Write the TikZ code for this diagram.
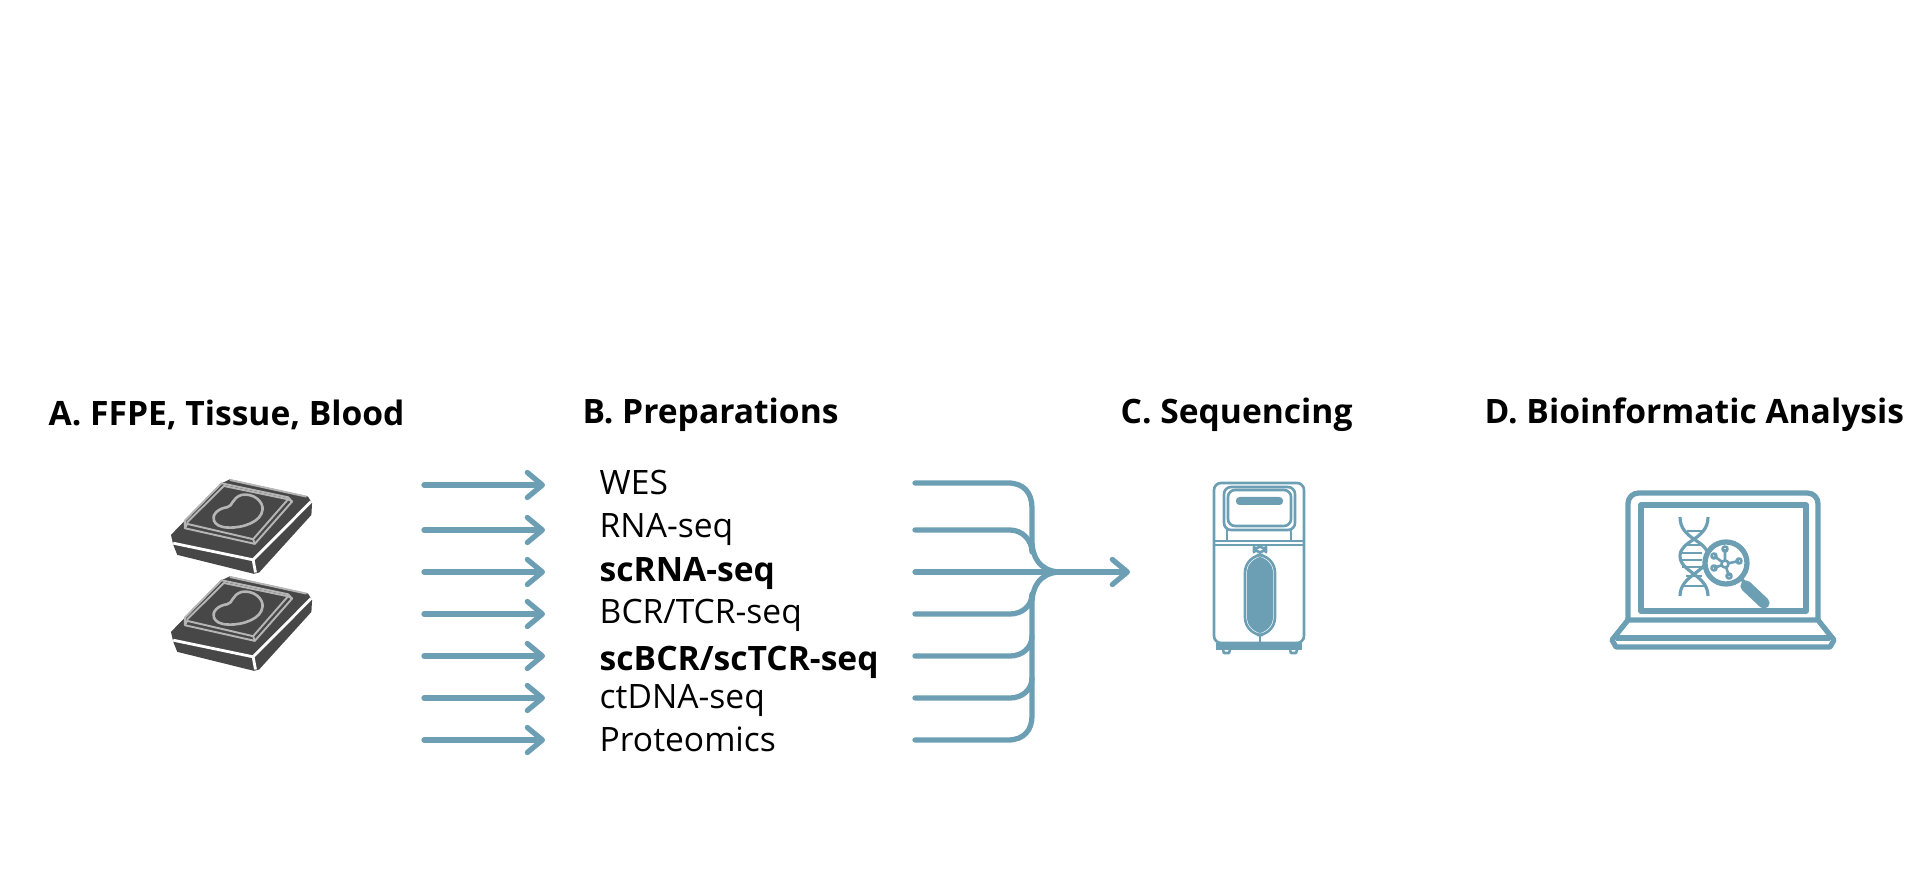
\documentclass[tikz,border=0pt]{standalone}
\usepackage{fontspec}
\setmainfont{Open Sans}
\usetikzlibrary{positioning}
\usetikzlibrary{arrows.meta}
\definecolor{teal1}{HTML}{6C9FB4}
\definecolor{slidedark}{HTML}{474747}
\definecolor{slidegrey}{HTML}{B5B5B5}

\begin{document}
\begin{tikzpicture}[%
    x=0.01cm, y=-0.01cm,
    node distance=0.54cm,
    heading/.style={inner sep=0pt, anchor=west, font=\fontsize{9.55}{11}\selectfont\bfseries},
    prepnode/.style={inner sep=0pt, font=\fontsize{9.55}{11}\selectfont},
    prepbold/.style={prepnode, font=\fontsize{9.55}{11}\selectfont\bfseries},
    flow/.style={draw=teal1, line width=1.5pt, line cap=round},
    flowtip/.style={flow, -{Straight Barb[length=1.5mm, width=2.5mm, round]}},
    device/.style={draw=teal1, line width=0.75pt, line join=round},
    laptop/.style={draw=teal1, line width=1.5pt, line join=round},
    slidetop/.style={draw=slidegrey, line width=0.55pt, line join=round},
    slide/.pic={
        \begin{scope}[x=0.00333cm, y=-0.00333cm]
        \fill[slidedark] (93,225) -- (245,70) -- (270,58) -- (505,110) -- (517,130) -- (515,165) -- (358,338) -- (342,342) -- (112,285) -- (100,255) -- cycle;
        \draw[white, line width=0.8pt] (100,250) -- (340,300) -- (347,338);
        \draw[white, line width=0.8pt] (340,300) -- (514,125);
        \draw[slidetop] (135,182) -- (245,70) -- (445,112) -- (457,125) -- (345,252) -- (135,205) -- cycle;
        \draw[slidetop] (142,187) -- (252,78) -- (445,118) -- (340,238) -- (142,192) -- cycle;
        \draw[slidetop] (135,205) -- (142,192);
        \draw[slidetop] (345,252) -- (340,238) (457,125) -- (445,118);
        \draw[slidetop] (270,60) -- (500,110);
        \draw[slidetop, line width=0.75pt] (222,182) .. controls (215,165) and (235,145) .. (262,142)
            .. controls (280,138) and (275,115) .. (305,105) .. controls (340,98) and (372,125) .. (368,150)
            .. controls (365,185) and (310,205) .. (265,203) .. controls (240,202) and (228,195) .. (222,182) -- cycle;
        \end{scope}
    }
]

% headings
\node[heading] (sample) at (48,415) {A. FFPE, Tissue, Blood};
\node[heading] (prep)   at (582,415) {B. Preparations};
\node[heading] (seq)    at (1120,415) {C. Sequencing};
\node[heading] (bioinf) at (1484,415) {D. Bioinformatic Analysis};

% slides
\pic at (140,460) {slide};
\pic at (140,557) {slide};

% arrow ends
\coordinate (a1) at (424,485);  \coordinate (e1) at (545,485);
\coordinate (a2) at (424,530);  \coordinate (e2) at (545,530);
\coordinate (a3) at (424,572);  \coordinate (e3) at (545,572);
\coordinate (a4) at (424,614);  \coordinate (e4) at (545,614);
\coordinate (a5) at (424,656);  \coordinate (e5) at (545,656);
\coordinate (a6) at (424,698);  \coordinate (e6) at (545,698);
\coordinate (a7) at (424,740);  \coordinate (e7) at (545,740);

% preparations
\node[prepnode] (wes)     [right=of e1, yshift=0.02cm] {WES};
\node[prepnode] (rnaseq)  [right=of e2, yshift=0.01cm] {RNA-seq};
\node[prepbold] (scrna)   [right=of e3, yshift=-0.015cm] {scRNA-seq};
\node[prepnode] (bcrtcr)  [right=of e4, yshift=-0.015cm] {BCR/TCR-seq};
\node[prepbold] (scbcr)   [right=of e5, yshift=-0.06cm] {scBCR/scTCR-seq};
\node[prepnode] (ctdna)   [right=of e6, yshift=-0.025cm] {ctDNA-seq};
\node[prepnode] (proteo)  [right=of e7, yshift=0.01cm] {Proteomics};

% sample arrows
\draw[flowtip] (a1) -- (e1);
\draw[flowtip] (a2) -- (e2);
\draw[flowtip] (a3) -- (e3);
\draw[flowtip] (a4) -- (e4);
\draw[flowtip] (a5) -- (e5);
\draw[flowtip] (a6) -- (e6);
\draw[flowtip] (a7) -- (e7);

% merge lines
\coordinate (m1) at (915,483);
\coordinate (m2) at (915,530);
\coordinate (m3) at (915,572);
\coordinate (m4) at (915,614);
\coordinate (m5) at (915,656);
\coordinate (m6) at (915,698);
\coordinate (m7) at (915,740);
\coordinate (join) at (1058,572);
\coordinate (seqin) at (1130,572);
\draw[flow] (m1) -- (1008,483) .. controls (1024,483) and (1032,493) .. (1032,508) -- (1032,540) .. controls (1032,558) and (1040,570) .. (join);
\draw[flow] (m2) -- (1010,530) .. controls (1022,530) and (1032,540) .. (1032,552);
\draw[flow] (join) .. controls (1040,574) and (1032,586) .. (1032,604) -- (1032,716) .. controls (1032,730) and (1024,740) .. (1008,740) -- (m7);
\draw[flow] (m4) -- (1010,614) .. controls (1022,614) and (1032,606) .. (1032,594);
\draw[flow] (m5) -- (1010,656) .. controls (1022,656) and (1032,648) .. (1032,636);
\draw[flow] (m6) -- (1010,698) .. controls (1022,698) and (1032,690) .. (1032,678);
\draw[flowtip] (m3) -- (seqin);

% sequencer
\draw[device, rounded corners=2pt] (1214,483) rectangle (1304,643);
\draw[device] (1214,541) -- (1304,541) (1214,545) -- (1304,545);
\draw[device, rounded corners=2pt] (1224,487) rectangle (1295,530);
\draw[device, rounded corners=2pt] (1228,490) rectangle (1291,526);
\draw[device] (1227,530) -- (1227,541) (1291,530) -- (1291,541);
\fill[teal1, rounded corners=1pt] (1236,497) rectangle (1283,505);
\fill[teal1] (1216,643) rectangle (1302,650);
\draw[device] (1223,650) -- (1224,653) -- (1229,653) -- (1230,650) (1290,650) -- (1291,653) -- (1296,653) -- (1297,650);
\draw[device, rounded corners=1.5pt] (1254,547) rectangle (1266,552);
\draw[device] (1260,552) -- (1260,555) (1260,634) -- (1260,643);
\draw[device, rounded corners=5pt] (1245,555) rectangle (1275,635);
\fill[teal1, rounded corners=4.5pt] (1247,557) rectangle (1273,633);

% laptop
\draw[laptop, rounded corners=3pt] (1628,620) -- (1628,493) -- (1818,493) -- (1818,620);
\draw[laptop, line width=1.7pt] (1641,505) rectangle (1806,611);
\draw[laptop] (1628,620) -- (1818,620) -- (1834,640) -- (1830,647) -- (1616,647) -- (1612,640) -- cycle;
\draw[laptop] (1616,638) -- (1830,638);

% dna
\draw[device, line width=0.9pt] (1680,517) .. controls (1680,540) and (1708,540) .. (1708,556) .. controls (1708,572) and (1680,575) .. (1680,596);
\draw[device, line width=0.9pt] (1708,517) .. controls (1708,540) and (1680,540) .. (1680,556) .. controls (1680,572) and (1708,575) .. (1708,596);
\foreach \rungy/\rungl/\rungr in {531/1687/1702, 545/1685/1702, 553/1680/1702, 560/1680/1702, 567/1682/1702, 576/1686/1702, 586/1684/1705}
    \draw[device] (\rungl,\rungy) -- (\rungr,\rungy);

% magnifier
\fill[white] (1726,563) circle (0.23cm);
\draw[laptop, line width=1.5pt] (1726,563) circle (0.21cm);
\draw[teal1, line width=3.2pt, line cap=round] (1746,586) -- (1764,603);
\draw[teal1, line width=1pt] (1742,579) -- (1746,586);
\foreach \armx/\army in {1725/549, 1739/561, 1729/576, 1714/568, 1714/556}
    \draw[device, fill=white] (1725,564) -- (\armx,\army) (\armx,\army) circle (0.025cm);
\draw[device, fill=white] (1725,564) circle (0.035cm);
\useasboundingbox (0,0) rectangle (1920,870);
\end{tikzpicture}
\end{document}
